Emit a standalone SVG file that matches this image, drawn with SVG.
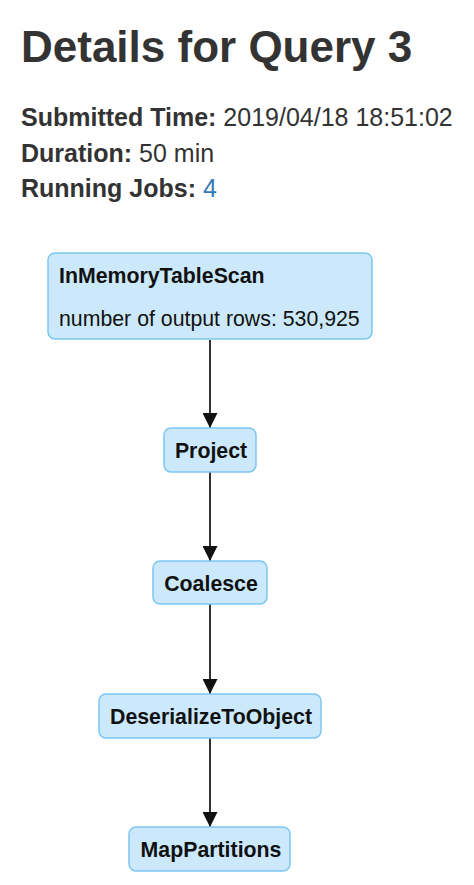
<svg xmlns="http://www.w3.org/2000/svg" width="474" height="885" viewBox="0 0 474 885">
<style>
text{font-family:"Liberation Sans",Arial,Helvetica,sans-serif;fill:#333}
.b{font-weight:bold}
.node rect{fill:#cbe9fb;stroke:#7ec6f2;stroke-width:1.5}
.node text{font-size:21.3px;fill:#111}
.edge line{stroke:#333;stroke-width:2}
</style>
<defs>
<marker id="ah" viewBox="0 0 14 14" refX="14" refY="7" markerWidth="15" markerHeight="15" markerUnits="userSpaceOnUse" orient="auto">
<path d="M0,0 L14,7 L0,14 Z" fill="#111"/>
</marker>
</defs>
<text x="21" y="62" class="b" font-size="44">Details for Query 3</text>
<text x="21" y="126" font-size="25"><tspan class="b">Submitted Time:</tspan> 2019/04/18 18:51:02</text>
<text x="21" y="162" font-size="25"><tspan class="b">Duration:</tspan> 50 min</text>
<text x="21" y="197" font-size="25"><tspan class="b">Running Jobs:</tspan> <tspan fill="#337ab7">4</tspan></text>
<g id="edges" class="edge">
<line x1="210" y1="340" x2="210" y2="428" marker-end="url(#ah)"/>
<line x1="210" y1="472" x2="210" y2="561" marker-end="url(#ah)"/>
<line x1="210" y1="604" x2="210" y2="694" marker-end="url(#ah)"/>
<line x1="210" y1="738" x2="210" y2="827" marker-end="url(#ah)"/>
</g>
<g id="n1" class="node"><rect x="48" y="253" width="324" height="86" rx="7"/><text x="59" y="283" class="b">InMemoryTableScan</text><text x="59" y="326">number of output rows: 530,925</text></g>
<g id="n2" class="node"><rect x="164" y="428" width="92" height="44" rx="7"/><text x="211" y="458" class="b" text-anchor="middle">Project</text></g>
<g id="n3" class="node"><rect x="153" y="561" width="114" height="43" rx="7"/><text x="211" y="591" class="b" text-anchor="middle">Coalesce</text></g>
<g id="n4" class="node"><rect x="99" y="694" width="222" height="44" rx="7"/><text x="211" y="724" class="b" text-anchor="middle">DeserializeToObject</text></g>
<g id="n5" class="node"><rect x="129" y="827" width="161" height="44" rx="7"/><text x="211" y="857" class="b" text-anchor="middle">MapPartitions</text></g>
</svg>
